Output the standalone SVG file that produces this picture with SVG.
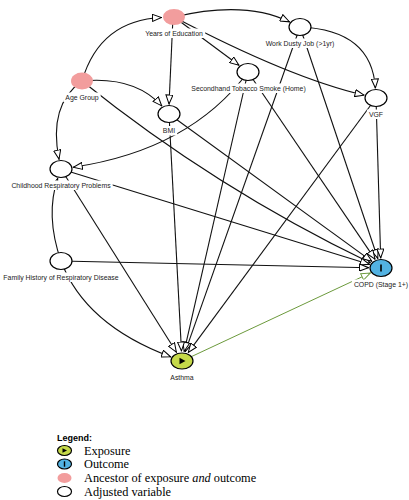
<svg xmlns="http://www.w3.org/2000/svg" width="409" height="500" viewBox="0 0 409 500">
<style>
.e{fill:none;stroke:#111;stroke-width:1.1;marker-end:url(#arr)}
.g{fill:none;stroke:#6c9a3c;stroke-width:1;marker-end:url(#arrg)}
.n{fill:#fff;stroke:#000;stroke-width:1.2}
.anc{fill:#f29d9d;stroke:none}
.exp{fill:#c5d94a;stroke:#000;stroke-width:1.2}
.out{fill:#52b2e2;stroke:#000;stroke-width:1.2}
.bg{fill:#fff}
.lb{font-family:"Liberation Sans",Arial,sans-serif;font-size:6.9px;fill:#222;text-anchor:middle}
.lg{font-family:"Liberation Serif","Times New Roman",serif;font-size:12.3px;fill:#000}
.lh{font-family:"Liberation Sans",Arial,sans-serif;font-size:9px;font-weight:bold;fill:#000}
</style>
<defs>
<marker id="arr" viewBox="0 0 10 8" refX="10" refY="4" markerWidth="10" markerHeight="8" markerUnits="userSpaceOnUse" orient="auto"><path d="M0.5,0.5 L9.5,4 L0.5,7.5 Z" fill="#fff" stroke="#000" stroke-width="1"/></marker>
<marker id="arrg" viewBox="0 0 10 8" refX="10" refY="4" markerWidth="10" markerHeight="8" markerUnits="userSpaceOnUse" orient="auto"><path d="M0.5,0.5 L9.5,4 L0.5,7.5 Z" fill="#fff" stroke="#6c9a3c" stroke-width="1"/></marker>
</defs>
<g id="connectors">
<path class="e" d="M82,81 Q100,20 162,17.5"/>
<path class="e" d="M82,81 Q135,76 162,106.2"/>
<path class="e" d="M82,81 Q48,105 59.1,159.6"/>
<path class="e" d="M82,81 Q215,188 370.7,263.1"/>
<path class="e" d="M174,17 Q245,0 289.8,22"/>
<path class="e" d="M173,17 L169,104.5"/>
<path class="e" d="M174,17 L239.3,65.5"/>
<path class="e" d="M174,17 Q290,78 364.5,95.3"/>
<path class="e" d="M300,27 Q372,30 375.4,88.5"/>
<path class="e" d="M300,27 L185.2,351.9"/>
<path class="e" d="M300,27 L377.9,258.8"/>
<path class="e" d="M248,72 Q190,150 72.8,167.3"/>
<path class="e" d="M248,72 L184.1,351.7"/>
<path class="e" d="M248,72 L375.3,259.6"/>
<path class="e" d="M169,114 L181.5,351.5"/>
<path class="e" d="M169,114 L372.2,261.6"/>
<path class="e" d="M376,98 L188,352.8"/>
<path class="e" d="M376,98 L380.7,258.5"/>
<path class="e" d="M61,169 L176.6,352.5"/>
<path class="e" d="M61,169 L369.8,264.5"/>
<path class="e" d="M61,261 Q45,215 57.8,178.2"/>
<path class="e" d="M61,261 Q85,325 171.1,357"/>
<path class="e" d="M61,261 L369,267.7"/>
<path class="g" d="M182,361 L370.7,272.8"/>
</g>
<g id="node-years-of-education">
<ellipse class="anc" cx="174" cy="17" rx="11" ry="8"/>
<rect class="bg" x="142.9" y="28.5" width="62.3" height="9.5"/>
<text class="lb" x="174" y="35.5">Years of Education</text>
</g>
<g id="node-age-group">
<ellipse class="anc" cx="82" cy="81" rx="11" ry="8.5"/>
<rect class="bg" x="63.3" y="92.5" width="37.4" height="9.5"/>
<text class="lb" x="82" y="99.5">Age Group</text>
</g>
<g id="node-work-dusty-job">
<ellipse class="n" cx="300" cy="27" rx="11" ry="8.5"/>
<rect class="bg" x="263.6" y="38.5" width="72.8" height="9.5"/>
<text class="lb" x="300" y="45.5">Work Dusty Job (&gt;1yr)</text>
</g>
<g id="node-secondhand-smoke">
<ellipse class="n" cx="248" cy="72" rx="11" ry="8.5"/>
<rect class="bg" x="190.4" y="83.5" width="116.3" height="9.5"/>
<text class="lb" x="248.5" y="90.5">Secondhand Tobacco Smoke (Home)</text>
</g>
<g id="node-bmi">
<ellipse class="n" cx="169" cy="114" rx="11" ry="8.5"/>
<rect class="bg" x="160.9" y="126" width="16.3" height="9.5"/>
<text class="lb" x="169" y="133">BMI</text>
</g>
<g id="node-vgf">
<ellipse class="n" cx="376" cy="98" rx="11" ry="8.5"/>
<rect class="bg" x="366.9" y="109.5" width="18.2" height="9.5"/>
<text class="lb" x="376" y="116.5">VGF</text>
</g>
<g id="node-childhood-respiratory">
<ellipse class="n" cx="61" cy="169" rx="11" ry="8.5"/>
<rect class="bg" x="9.4" y="180.5" width="103.3" height="9.5"/>
<text class="lb" x="61" y="187.5">Childhood Respiratory Problems</text>
</g>
<g id="node-family-history">
<ellipse class="n" cx="61" cy="261" rx="11" ry="8.5"/>
<rect class="bg" x="1.3" y="272.5" width="119.4" height="9.5"/>
<text class="lb" x="61" y="279.5">Family History of Respiratory Disease</text>
</g>
<g id="node-copd">
<ellipse class="out" cx="381" cy="268" rx="11" ry="8.5"/>
<line x1="381" y1="264.5" x2="381" y2="271.5" stroke="#000" stroke-width="1.6"/>
<rect class="bg" x="351.9" y="279.5" width="58.3" height="9.5"/>
<text class="lb" x="381" y="286.5">COPD (Stage 1+)</text>
</g>
<g id="node-asthma">
<ellipse class="exp" cx="182" cy="361" rx="11" ry="8"/>
<path d="M179.5,357.8 L185.5,361 L179.5,364.2 Z" fill="#000"/>
<rect class="bg" x="168.3" y="372.5" width="27.4" height="9.5"/>
<text class="lb" x="182" y="379.5">Asthma</text>
</g>
<g id="legend">
<text class="lh" x="57" y="440.5">Legend:</text>
<ellipse class="exp" cx="64.5" cy="450.5" rx="7" ry="5"/>
<path d="M62.5,448.3 L67,450.5 L62.5,452.7 Z" fill="#000"/>
<text class="lg" x="84" y="454.5">Exposure</text>
<ellipse class="out" cx="64.5" cy="464" rx="7" ry="5"/>
<line x1="64.5" y1="461.3" x2="64.5" y2="466.7" stroke="#000" stroke-width="1.4"/>
<text class="lg" x="84" y="468">Outcome</text>
<ellipse class="anc" cx="64.5" cy="478" rx="7" ry="5"/>
<text class="lg" x="84" y="482">Ancestor of exposure <tspan font-style="italic">and</tspan> outcome</text>
<ellipse class="n" cx="64.5" cy="491.5" rx="7" ry="5"/>
<text class="lg" x="84" y="495.5">Adjusted variable</text>
</g>
</svg>
